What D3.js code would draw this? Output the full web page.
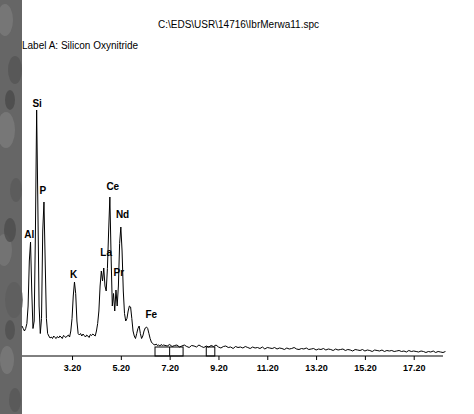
<!DOCTYPE html>
<html>
<head>
<script src="https://cdn.jsdelivr.net/npm/d3@7"></script>
<style>body{margin:0;background:#fff}text{font-family:Arial,"Liberation Sans",sans-serif}</style>
</head>
<body>
<script>
// energy (keV) and counts
var energy = [];
var counts = [120,110,100,110,130,200,380,456,260,110,140,500,984,600,200,90,150,500,616,380,150,90,80,72,76,70,80,74,70,78,72,80,76,70,82,78,74,80,84,76,100,150,240,296,250,140,90,84,90,80,88,82,76,84,80,74,86,82,88,84,80,100,130,180,280,340,300,352,280,260,350,500,636,400,200,250,180,264,200,280,450,516,420,260,170,140,150,180,200,196,150,100,80,70,90,110,120,90,70,80,100,112,116,110,90,70,56,50,46,44,48,42,44,40,46,42,44,
  40,46,38,42,44,36,40,44,38,34,42,40,36,44,38,34,40,36,42,38,44,36,32,38,40,34,36,30,38,34,36,32,38,34,30,36,32,34,30,36,28,34,32,30,34,28,32,30,26,32,28,30,34,28,26,30,28,32,26,28,30,24,28,26,30,24,28,26,22,28,24,26,28,22,26,24,20,26,24,22,26,20,24,22,18,24,22,20,24,18,22,20,22,18,20,22,18,20,16,22,18,20,
  18,16,20,18,14,18,16,20,14,18,16,14,18];
// step 0.05 keV from 1.15 to 7.00, then 0.1 keV
for (var i = 0; i < 117; i++) energy.push(+(1.15 + i * 0.05).toFixed(2));
for (var j = 1; energy.length < counts.length; j++) energy.push(+(7 + j * 0.1).toFixed(2));
var tickVals = [3.2, 5.2, 7.2, 9.2, 11.2, 13.2, 15.2, 17.2];
var peakNames = ["Al", "Si", "P", "K", "La", "Ce", "Pr", "Nd", "Fe"];
var peakE = [1.45, 1.77, 2.0, 3.27, 4.60, 4.87, 5.12, 5.27, 6.45];
var peakC = [464, 990, 640, 304, 392, 656, 312, 544, 144];
var markers = [[6.60, 7.75], [8.7, 9.05]];

var W = 474, H = 414;
var svg = d3.select("body").append("svg").attr("width", W).attr("height", H);

// textured left strip
var strip = svg.append("g");
strip.append("rect").attr("x", 0).attr("y", 0).attr("width", 22).attr("height", H).attr("fill", "#666");
var blobs = [[5,20,8,"#7a7a7a"],[15,70,7,"#555"],[6,130,9,"#7c7c7c"],[16,190,6,"#5a5a5a"],[4,250,8,"#777"],[14,300,9,"#5e5e5e"],[7,360,7,"#7a7a7a"],[15,400,6,"#585858"],[10,100,5,"#4a4a4a"],[10,230,6,"#4c4c4c"],[10,330,5,"#505050"]];
strip.selectAll("ellipse").data(blobs).enter().append("ellipse")
  .attr("cx", function(d){return d[0];}).attr("cy", function(d){return d[1];})
  .attr("rx", function(d){return d[2];}).attr("ry", function(d){return d[2]*2;})
  .attr("fill", function(d){return d[3];}).attr("opacity", 0.8);

var x = d3.scaleLinear().domain([1.15, 18.4]).range([22, 443]);
var y = d3.scaleLinear().domain([0, 1000]).range([356, 106]);

svg.append("g").attr("transform", "translate(0,356)")
  .call(d3.axisBottom(x).tickValues(tickVals).tickSize(4).tickFormat(d3.format(".2f")))
  .call(function(g){
    g.select(".domain").attr("d", "M22,0H443");
    g.selectAll("text").attr("font-size", 9).attr("font-weight", "bold").attr("dy", "0.9em");
  });

svg.append("path").datum(d3.zip(energy, counts))
  .attr("fill", "none").attr("stroke", "#000").attr("stroke-width", 1)
  .attr("d", d3.line().x(function(d){return x(d[0]);}).y(function(d){return y(d[1]);}));

svg.selectAll(".mk").data(markers).enter().append("rect")
  .attr("x", function(d){return x(d[0]);}).attr("y", 347)
  .attr("width", function(d){return x(d[1]) - x(d[0]);}).attr("height", 9)
  .attr("fill", "none").attr("stroke", "#000");
svg.append("line").attr("x1", x(7.2)).attr("x2", x(7.2)).attr("y1", 347).attr("y2", 356).attr("stroke", "#000");

svg.selectAll(".lbl").data(peakNames).enter().append("text")
  .attr("x", function(d,i){return x(peakE[i]);}).attr("y", function(d,i){return y(peakC[i]) - 2;})
  .attr("text-anchor", "middle").attr("font-size", 10).attr("font-weight", "bold").text(function(d){return d;});

svg.append("text").attr("x", 158).attr("y", 28).attr("font-size", 10).text("C:\\EDS\\USR\\14716\\IbrMerwa11.spc");
svg.append("text").attr("x", 22).attr("y", 49).attr("font-size", 10).text("Label A: Silicon Oxynitride");
</script>
</body>
</html>
